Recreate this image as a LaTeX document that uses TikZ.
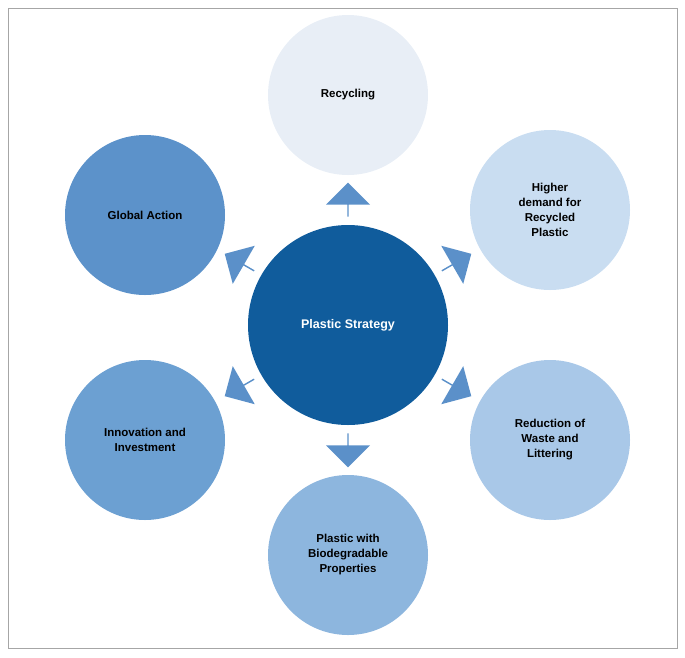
\documentclass[tikz,border=0pt]{standalone}
\usepackage{fontspec}
\setmainfont{Liberation Sans}
\usetikzlibrary{shapes.arrows,calc}
\definecolor{cC}{HTML}{105C9C}
\definecolor{c1}{HTML}{E8EEF6}
\definecolor{c2}{HTML}{C9DDF1}
\definecolor{c3}{HTML}{A9C8E8}
\definecolor{c4}{HTML}{8DB6DE}
\definecolor{c5}{HTML}{6CA0D2}
\definecolor{c6}{HTML}{5C92CA}
\definecolor{cA}{HTML}{5B90C9}
\tikzset{
 outer/.style={circle,minimum size=160pt,inner sep=0pt,align=center,font=\bfseries\fontsize{11.5}{15}\selectfont,text=black},
 arr/.style={single arrow,fill=cA,draw=none,minimum width=44pt,minimum height=34pt,single arrow head extend=6pt,inner sep=0pt}
}
\begin{document}
\begin{tikzpicture}[x=1pt,y=-1pt]
\useasboundingbox (0,0) rectangle (685,657);
\draw[gray!70,line width=0.8pt] (8,8) rectangle (677,648);
\node[circle,fill=cC,minimum size=200pt,text=white,font=\bfseries\fontsize{12.5}{15}\selectfont] (c) at (348,325) {Plastic Strategy};
\node[outer,fill=c1] (o1) at (348,95) {Recycling};
\node[outer,fill=c2] (o2) at (550,210) {Higher\\demand for\\Recycled\\Plastic};
\node[outer,fill=c3] (o3) at (550,440) {Reduction of\\Waste and\\Littering};
\node[outer,fill=c4] (o4) at (348,555) {Plastic with\\Biodegradable\\Properties};
\node[outer,fill=c5] (o5) at (145,440) {Innovation and\\Investment};
\node[outer,fill=c6] (o6) at (145,215) {Global Action};
\foreach \a in {90,30,-30,-90,210,150}
  \node[arr,rotate=\a] at ($(c)+(-\a:125)$) {};
\end{tikzpicture}
\end{document}
